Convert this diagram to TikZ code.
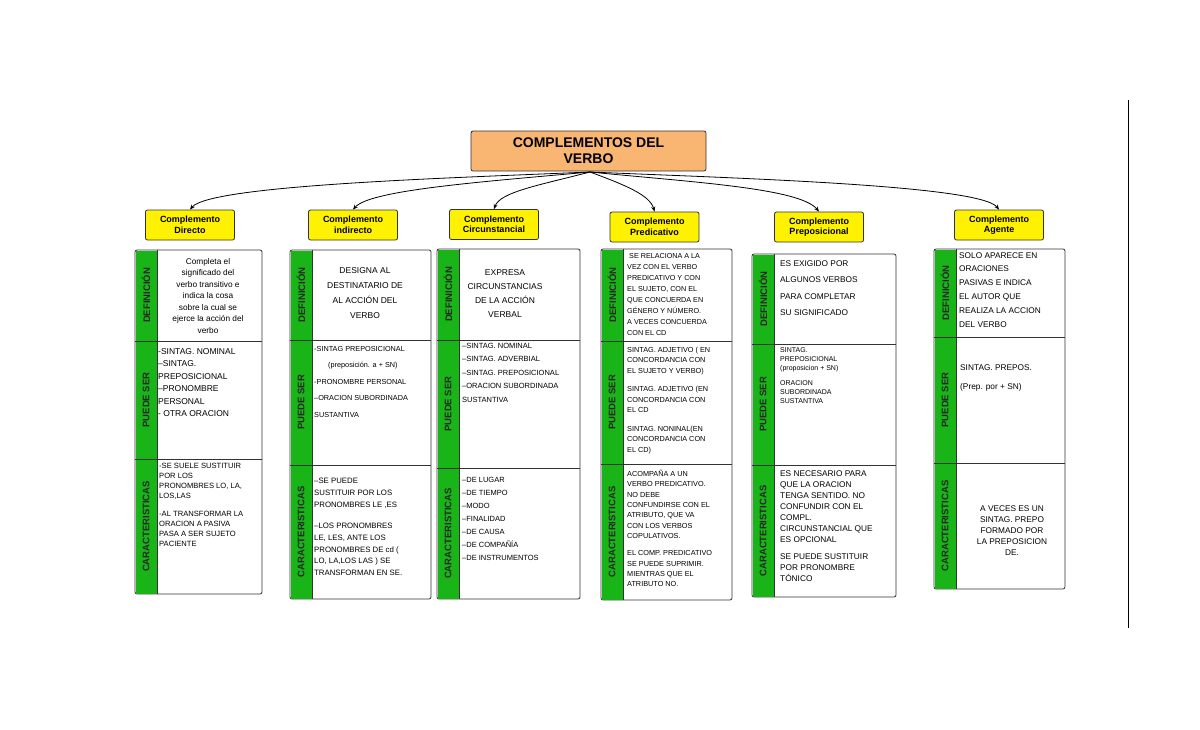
\documentclass[tikz,border=0pt]{standalone}
\usepackage{fontspec}
\setmainfont{Liberation Sans}
\usetikzlibrary{arrows.meta}
\definecolor{gr}{HTML}{18B418}
\definecolor{ttl}{HTML}{F9B572}
\definecolor{yl}{HTML}{FFF200}
\tikzset{
 hdr/.style={draw=black!80,fill=yl,rounded corners=2pt,line width=0.8pt,font=\bfseries\fontsize{9}{10.5}\selectfont,align=center,minimum height=30pt,minimum width=89pt,inner sep=1pt},
 lab/.style={rotate=90,font=\bfseries\fontsize{9.5}{10}\selectfont,text=black!85},
 txt/.style={font=\fontsize{7}{10}\selectfont,align=left,inner sep=1pt,anchor=north west},
 ctxt/.style={font=\fontsize{7.5}{11}\selectfont,align=center,inner sep=1pt},
 arr/.style={-{Stealth[length=5pt,width=4pt]},line width=0.8pt}
}
% #1 name, #2 x1, #3 x2, #4 ytop, #5 div1, #6 div2, #7 ybot
\newcommand\mycol[7]{%
 \draw[fill=white,rounded corners=2pt,line width=0.8pt,draw=black!80] (#2,-#4) rectangle (#3,-#7);
 \fill[gr] (#2+0.5,-#4-0.5) rectangle (#2+22,-#7+0.5);
 \draw[black!80,line width=0.6pt] (#2+22,-#4) -- (#2+22,-#7) (#2,-#5) -- (#3,-#5) (#2,-#6) -- (#3,-#6);
 \node[lab] (#1d) at (#2+11,{-(#4+#5)/2}) {DEFINICIÓN};
 \node[lab] (#1p) at (#2+11,{-(#5+#6)/2}) {PUEDE SER};
 \node[lab] (#1c) at (#2+11,{-(#6+#7)/2}) {CARACTERISTICAS};
}
\begin{document}
\begin{tikzpicture}[x=1pt,y=1pt]
\useasboundingbox (0,0) rectangle (1200,-729);
\draw[line width=1pt] (1128,-100) -- (1128,-628);
\node[draw=black!80,fill=ttl,rounded corners=2pt,line width=0.8pt,minimum width=235pt,minimum height=40pt,font=\bfseries\fontsize{14}{16}\selectfont,align=center,inner sep=1pt] (t) at (588.5,-151) {COMPLEMENTOS DEL\\VERBO};
\node[hdr] (h1) at (190,-225) {Complemento\\Directo};
\node[hdr] (h2) at (353,-225) {Complemento\\indirecto};
\node[hdr] (h3) at (494,-224.5) {Complemento\\Circunstancial};
\node[hdr] (h4) at (654.5,-227) {Complemento\\Predicativo};
\node[hdr] (h5) at (819,-227) {Complemento\\Preposicional};
\node[hdr] (h6) at (999,-225) {Complemento\\Agente};
\coordinate (o) at (590,-172);
\draw[arr] (o) .. controls (450,-178) and (210,-185) .. (h1.north);
\draw[arr] (o) .. controls (480,-182) and (370,-190) .. (h2.north);
\draw[arr] (o) .. controls (540,-185) and (500,-192) .. (h3.north);
\draw[arr] (o) .. controls (625,-185) and (650,-195) .. (h4.north);
\draw[arr] (o) .. controls (690,-182) and (800,-188) .. (h5.north);
\draw[arr] (o) .. controls (730,-178) and (980,-185) .. (h6.north);

\mycol{a}{135}{262}{250}{341}{459}{594}
\mycol{b}{290}{431}{250}{340}{465}{599}
\mycol{c}{437}{580}{249}{340}{468}{599}
\mycol{d}{601}{732}{249}{341}{464}{600}
\mycol{e}{752}{896}{254}{344}{465}{597}
\mycol{f}{934}{1065}{249}{337}{463}{589}

% col 1
\node[ctxt,font=\fontsize{8.3}{11.5}\selectfont] (a1) at (208,-296) {Completa el\\significado del\\verbo transitivo e\\indica la cosa\\sobre la cual se\\ejerce la acción del\\verbo};
\node[txt,font=\fontsize{8.5}{12.5}\selectfont] (a2) at (157,-347) {-SINTAG. NOMINAL\\--SINTAG.\\PREPOSICIONAL\\--PRONOMBRE\\PERSONAL\\- OTRA ORACION};
\node[txt,font=\fontsize{7.6}{10}\selectfont] (a3) at (158,-462) {-SE SUELE SUSTITUIR\\POR LOS\\PRONOMBRES LO, LA,\\LOS,LAS\\[8pt]-AL TRANSFORMAR LA\\ORACION A PASIVA\\PASA A SER SUJETO\\PACIENTE};
% col 2
\node[ctxt,font=\fontsize{8.5}{15}\selectfont] (b1) at (365,-293) {DESIGNA AL\\DESTINATARIO DE\\AL ACCIÓN DEL\\VERBO};
\node[txt,font=\fontsize{7.3}{16.5}\selectfont] (b2) at (313,-345) {-SINTAG PREPOSICIONAL\\\hspace*{14pt}(preposición. a + SN)\\-PRONOMBRE PERSONAL\\--ORACION SUBORDINADA\\SUSTANTIVA};
\node[txt,font=\fontsize{7.8}{11.7}\selectfont] (b3) at (313,-477) {--SE PUEDE\\SUSTITUIR POR LOS\\PRONOMBRES LE ,ES\\[10pt]--LOS PRONOMBRES\\LE, LES, ANTE LOS\\PRONOMBRES DE cd (\\LO, LA,LOS LAS ) SE\\TRANSFORMAN EN SE.};
% col 3
\node[ctxt,font=\fontsize{8.5}{14}\selectfont] (c1) at (505,-294) {EXPRESA\\CIRCUNSTANCIAS\\DE LA ACCIÓN\\VERBAL};
\node[txt,font=\fontsize{7.5}{13.5}\selectfont] (c2) at (461,-342) {--SINTAG. NOMINAL\\--SINTAG. ADVERBIAL\\--SINTAG. PREPOSICIONAL\\--ORACION SUBORDINADA\\SUSTANTIVA};
\node[txt,font=\fontsize{7.5}{13}\selectfont] (c3) at (461,-476) {--DE LUGAR\\--DE TIEMPO\\--MODO\\--FINALIDAD\\--DE CAUSA\\--DE COMPAÑÍA\\--DE INSTRUMENTOS};
% col 4
\node[txt,font=\fontsize{7.2}{11}\selectfont] (d1) at (626,-252) {\hspace*{2pt}SE RELACIONA A LA\\VEZ CON EL VERBO\\PREDICATIVO Y CON\\EL SUJETO, CON EL\\QUE CONCUERDA EN\\GÉNERO Y NÚMERO.\\A VECES CONCUERDA\\CON EL CD};
\node[txt,font=\fontsize{7.3}{10.5}\selectfont] (d2) at (626,-346) {SINTAG. ADJETIVO ( EN\\CONCORDANCIA CON\\EL SUJETO Y VERBO)\\[8pt]SINTAG. ADJETIVO (EN\\CONCORDANCIA CON\\EL CD\\[8pt]SINTAG. NONINAL(EN\\CONCORDANCIA CON\\EL CD)};
\node[txt,font=\fontsize{7.3}{10.3}\selectfont] (d3) at (626,-469) {ACOMPAÑA A UN\\VERBO PREDICATIVO.\\NO DEBE\\CONFUNDIRSE CON EL\\ATRIBUTO, QUE VA\\CON LOS VERBOS\\COPULATIVOS.\\[7pt]EL COMP. PREDICATIVO\\SE PUEDE SUPRIMIR.\\MIENTRAS QUE EL\\ATRIBUTO NO.};
% col 5
\node[txt,font=\fontsize{8.3}{16.5}\selectfont] (e1) at (779,-259) {ES EXIGIDO POR\\ALGUNOS VERBOS\\PARA COMPLETAR\\SU SIGNIFICADO};
\node[txt,font=\fontsize{7}{9}\selectfont] (e2) at (779,-346) {SINTAG.\\PREPOSICIONAL\\(proposicion + SN)\\[6pt]ORACION\\SUBORDINADA\\SUSTANTIVA};
\node[txt,font=\fontsize{8.3}{11}\selectfont] (e3) at (779,-469) {ES NECESARIO PARA\\QUE LA ORACION\\TENGA SENTIDO. NO\\CONFUNDIR CON EL\\COMPL.\\CIRCUNSTANCIAL QUE\\ES OPCIONAL\\[6pt]SE PUEDE SUSTITUIR\\POR PRONOMBRE\\TÓNICO};
% col 6
\node[txt,font=\fontsize{8.3}{13.8}\selectfont] (f1) at (958,-251) {SOLO APARECE EN\\ORACIONES\\PASIVAS E INDICA\\EL AUTOR QUE\\REALIZA LA ACCION\\DEL VERBO};
\node[txt,font=\fontsize{8.3}{11}\selectfont] (f2) at (959,-363) {SINTAG. PREPOS.\\[8pt](Prep. por + SN)};
\node[ctxt,font=\fontsize{8.3}{11}\selectfont] (f3) at (1012,-531) {A VECES ES UN\\SINTAG. PREPO\\FORMADO POR\\LA PREPOSICION\\DE.};
\end{tikzpicture}
\end{document}
